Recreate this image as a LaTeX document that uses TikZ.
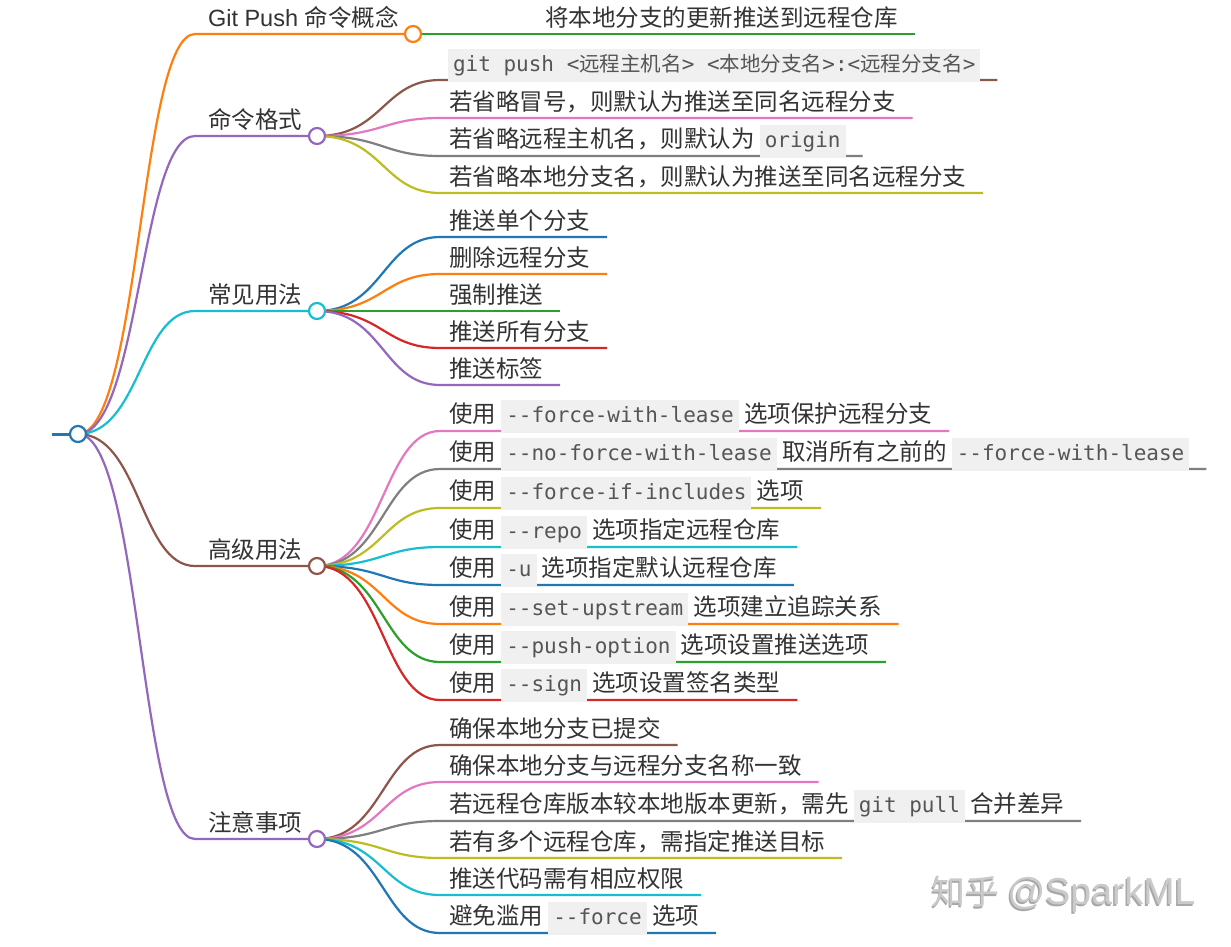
\documentclass[tikz,border=0pt]{standalone}
\usepackage{fontspec}
\setmainfont{Noto Sans CJK SC}
\newfontfamily\latinsans{Liberation Sans}
\newfontfamily\codefont[Ligatures=TeXOff]{DejaVu Sans Mono}
\newfontfamily\cjkfont{Noto Sans CJK SC}
\pgfdeclarelayer{bg}
\pgfsetlayers{bg,main}
\definecolor{cBlue}{HTML}{1F77B4}
\definecolor{cOrange}{HTML}{FF7F0E}
\definecolor{cGreen}{HTML}{2CA02C}
\definecolor{cRed}{HTML}{D62728}
\definecolor{cPurple}{HTML}{9467BD}
\definecolor{cBrown}{HTML}{8C564B}
\definecolor{cPink}{HTML}{E377C2}
\definecolor{cGray}{HTML}{7F7F7F}
\definecolor{cOlive}{HTML}{BCBD22}
\definecolor{cCyan}{HTML}{17BECF}
\definecolor{txtc}{HTML}{333333}
\definecolor{codebg}{HTML}{F0F0F0}
\definecolor{codetxt}{HTML}{555555}
\definecolor{wmgray}{HTML}{CACACA}
\definecolor{wmshadow}{HTML}{A8A8A8}
\newcommand\cj[1]{{\cjkfont\fontsize{20.5}{25}\selectfont #1}}
\newcommand\code[1]{{\setlength{\fboxsep}{0pt}\colorbox{codebg}{\rule[-10.5pt]{0pt}{32.5pt}\hspace{5pt}{\codefont\fontsize{21}{25}\selectfont\color{codetxt}#1}\hspace{5pt}}}}
\newcommand\tail{\kern17pt}
\begin{document}
\begin{tikzpicture}[x=1pt,y=-1pt,
  br/.style={line width=2.2pt},
  txt/.style={anchor=base west, inner sep=0pt, outer sep=0pt, text=txtc, font=\fontsize{23.5}{28}\selectfont},
  dot/.style={circle, minimum size=16pt, inner sep=0pt, line width=2.2pt, fill=white},
  wm/.style={anchor=base west, inner sep=0pt, font=\fontsize{34}{40}\selectfont}]
\useasboundingbox (0,0) rectangle (1231,946);

% centres
\coordinate (root) at (78,434);
\coordinate (stub) at (52,434);
\coordinate (k1) at (413,34);
\coordinate (k2) at (317,136);
\coordinate (k3) at (317,311);
\coordinate (k4) at (317,566);
\coordinate (k5) at (317,839);

% level 1 labels
\node[txt] (t1) at (208,26.5) {{\latinsans Git Push }命令概念};
\node[txt] (t2) at (208,128.5) {命令格式};
\node[txt] (t3) at (208,303.5) {常见用法};
\node[txt] (t4) at (208,558.5) {高级用法};
\node[txt] (t5) at (208,831.5) {注意事项};

% Git Push child
\node[txt] (g1) at (545,26.5) {将本地分支的更新推送到远程仓库\tail};

% 命令格式 children
\node[txt] (b21) at (448,71) {\code{git push <\cj{远程主机名}> <\cj{本地分支名}>:<\cj{远程分支名}>}\tail};
\node[txt] (b22) at (449,110.5) {若省略冒号，则默认为推送至同名远程分支\tail};
\node[txt] (b23) at (449,147) {若省略远程主机名，则默认为 \code{origin}\tail};
\node[txt] (b24) at (449,185.5) {若省略本地分支名，则默认为推送至同名远程分支\tail};

% 常见用法 children
\node[txt] (b31) at (449,229.5) {推送单个分支\tail};
\node[txt] (b32) at (449,266.5) {删除远程分支\tail};
\node[txt] (b33) at (449,303.5) {强制推送\tail};
\node[txt] (b34) at (449,340.5) {推送所有分支\tail};
\node[txt] (b35) at (449,377.5) {推送标签\tail};

% 高级用法 children
\node[txt] (b41) at (449,422) {使用 \code{--force-with-lease} 选项保护远程分支\tail};
\node[txt] (b42) at (449,460) {使用 \code{--no-force-with-lease} 取消所有之前的 \code{--force-with-lease}\tail};
\node[txt] (b43) at (449,499) {使用 \code{--force-if-includes} 选项\tail};
\node[txt] (b44) at (449,538) {使用 \code{--repo} 选项指定远程仓库\tail};
\node[txt] (b45) at (449,576) {使用 \code{-u} 选项指定默认远程仓库\tail};
\node[txt] (b46) at (449,615) {使用 \code{--set-upstream} 选项建立追踪关系\tail};
\node[txt] (b47) at (449,653) {使用 \code{--push-option} 选项设置推送选项\tail};
\node[txt] (b48) at (449,691) {使用 \code{--sign} 选项设置签名类型\tail};

% 注意事项 children
\node[txt] (b51) at (449,737.5) {确保本地分支已提交\tail};
\node[txt] (b52) at (449,774.5) {确保本地分支与远程分支名称一致\tail};
\node[txt] (b53) at (449,812) {若远程仓库版本较本地版本更新，需先 \code{git pull} 合并差异\tail};
\node[txt] (b54) at (449,850.5) {若有多个远程仓库，需指定推送目标\tail};
\node[txt] (b55) at (449,887.5) {推送代码需有相应权限\tail};
\node[txt] (b56) at (449,924) {避免滥用 \code{--force} 选项\tail};

\begin{pgfonlayer}{bg}
\fill[white] (0,0) rectangle (1231,946);
% root stub and level 1 branches
\draw[line width=3pt,cBlue] (stub) -- (root);
\draw[br,cOrange] (root) .. controls (140,434) and (140,34) .. (195,34) -- (k1);
\draw[br,cPurple] (root) .. controls (140,434) and (140,136) .. (195,136) -- (k2);
\draw[br,cCyan] (root) .. controls (140,434) and (140,311) .. (195,311) -- (k3);
\draw[br,cBrown] (root) .. controls (140,434) and (140,566) .. (195,566) -- (k4);
\draw[br,cPurple] (root) .. controls (140,434) and (140,839) .. (195,839) -- (k5);

\draw[br,cGreen] (k1) -- (g1.east |- 0,34);

\draw[br,cBrown] (k2) .. controls (383,136) and (383,80) .. (440,80) -- (b21.east |- 0,80);
\draw[br,cPink] (k2) .. controls (383,136) and (383,118) .. (440,118) -- (b22.east |- 0,118);
\draw[br,cGray] (k2) .. controls (383,136) and (383,156) .. (440,156) -- (b23.east |- 0,156);
\draw[br,cOlive] (k2) .. controls (383,136) and (383,193) .. (440,193) -- (b24.east |- 0,193);

\draw[br,cBlue] (k3) .. controls (383,311) and (383,237) .. (440,237) -- (b31.east |- 0,237);
\draw[br,cOrange] (k3) .. controls (383,311) and (383,274) .. (440,274) -- (b32.east |- 0,274);
\draw[br,cGreen] (k3) -- (b33.east |- 0,311);
\draw[br,cRed] (k3) .. controls (383,311) and (383,348) .. (440,348) -- (b34.east |- 0,348);
\draw[br,cPurple] (k3) .. controls (383,311) and (383,385) .. (440,385) -- (b35.east |- 0,385);

\draw[br,cPink] (k4) .. controls (383,566) and (383,431) .. (440,431) -- (b41.east |- 0,431);
\draw[br,cGray] (k4) .. controls (383,566) and (383,469) .. (440,469) -- (b42.east |- 0,469);
\draw[br,cOlive] (k4) .. controls (383,566) and (383,508) .. (440,508) -- (b43.east |- 0,508);
\draw[br,cCyan] (k4) .. controls (383,566) and (383,547) .. (440,547) -- (b44.east |- 0,547);
\draw[br,cBlue] (k4) .. controls (383,566) and (383,585) .. (440,585) -- (b45.east |- 0,585);
\draw[br,cOrange] (k4) .. controls (383,566) and (383,624) .. (440,624) -- (b46.east |- 0,624);
\draw[br,cGreen] (k4) .. controls (383,566) and (383,662) .. (440,662) -- (b47.east |- 0,662);
\draw[br,cRed] (k4) .. controls (383,566) and (383,700) .. (440,700) -- (b48.east |- 0,700);

\draw[br,cBrown] (k5) .. controls (383,839) and (383,745) .. (440,745) -- (b51.east |- 0,745);
\draw[br,cPink] (k5) .. controls (383,839) and (383,782) .. (440,782) -- (b52.east |- 0,782);
\draw[br,cGray] (k5) .. controls (383,839) and (383,821) .. (440,821) -- (b53.east |- 0,821);
\draw[br,cOlive] (k5) .. controls (383,839) and (383,858) .. (440,858) -- (b54.east |- 0,858);
\draw[br,cCyan] (k5) .. controls (383,839) and (383,895) .. (440,895) -- (b55.east |- 0,895);
\draw[br,cBlue] (k5) .. controls (383,839) and (383,933) .. (440,933) -- (b56.east |- 0,933);
\end{pgfonlayer}

% circles
\node[dot,draw=cBlue] (n0) at (root) {};
\node[dot,draw=cOrange] (n1) at (k1) {};
\node[dot,draw=cPurple] (n2) at (k2) {};
\node[dot,draw=cCyan] (n3) at (k3) {};
\node[dot,draw=cBrown] (n4) at (k4) {};
\node[dot,draw=cPurple] (n5) at (k5) {};

% watermark
\node[wm,text=wmshadow] (wms) at (930,906) {知乎 {\latinsans\fontsize{37.5}{44}\selectfont @SparkML}};
\node[wm,text=wmgray] (wmt) at (931.5,904.5) {知乎 {\latinsans\fontsize{37.5}{44}\selectfont @SparkML}};
\end{tikzpicture}
\end{document}
